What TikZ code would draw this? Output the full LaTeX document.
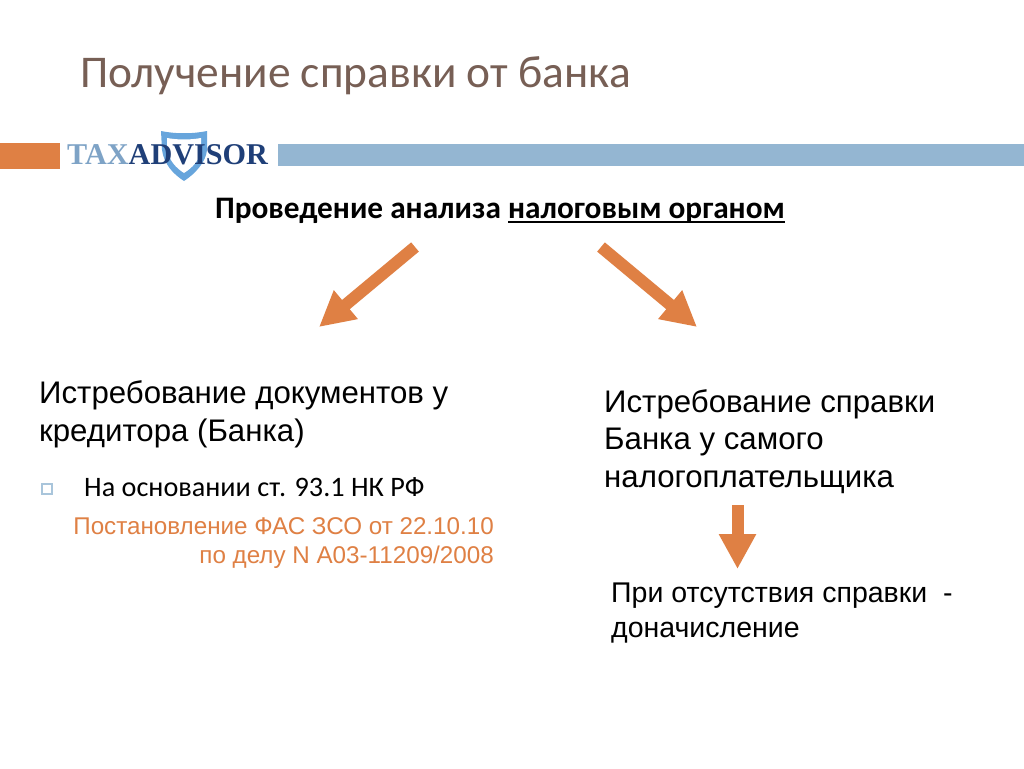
\documentclass[tikz,border=0pt]{standalone}
\usepackage{fontspec}
\setmainfont{Liberation Sans}
\newfontfamily\calibrifont{Carlito}
\newfontfamily\logofont{Liberation Serif}
\usetikzlibrary{arrows.meta}
\definecolor{accent}{HTML}{DF8044}
\definecolor{barblue}{HTML}{94B6D2}
\definecolor{titlecol}{HTML}{775F55}
\definecolor{shieldblue}{HTML}{67A5DC}
\definecolor{navy}{HTML}{1F3F78}
\definecolor{taxblue}{HTML}{7EA3C6}
\tikzset{
  bar/.style={fill=#1,draw=none},
  blockarrow/.style={draw=accent,line width=12pt,-{Triangle[length=35pt,width=35pt,fill=accent]}},
  body/.style={anchor=base west,inner sep=0pt,font=\fontsize{31.2}{36}\selectfont,text=black},
  cite/.style={anchor=base east,inner sep=0pt,font=\fontsize{24.2}{28}\selectfont,text=accent},
}
\begin{document}
\begin{tikzpicture}[x=1pt,y=-1pt]
\useasboundingbox (0,0) rectangle (1024,768);
\fill[white] (0,0) rectangle (1024,768);
\node[anchor=base west,inner sep=0pt,text=titlecol,font=\calibrifont\fontsize{45.4}{50}\selectfont] (title) at (80,87) {Получение справки от банка};
\fill[bar=accent] (0,143) rectangle (60,169);
\fill[bar=barblue] (278,144) rectangle (1024,166);
\fill[shieldblue] (161,131) .. controls (175,134) and (193,134) .. (207,131) -- (207,150) .. controls (206,162) and (195,174) .. (184,181) .. controls (173,174) and (164,164) .. (162,150) -- cycle;
\fill[white] (167,138) .. controls (178,140) and (190,140) .. (201,138) -- (201,150) .. controls (200,160) and (192,168) .. (184,173) .. controls (176,168) and (169,160) .. (167,150) -- cycle;
\node[anchor=base west,inner sep=0pt,font=\logofont\bfseries\fontsize{30.2}{32}\selectfont] (logo) at (67,164) {\textcolor{taxblue}{TAX}\textcolor{navy}{ADVISOR}};
\node[anchor=base,inner sep=0pt,font=\calibrifont\bfseries\fontsize{31.3}{36}\selectfont] (head) at (500,218) {Проведение анализа \rlap{\rule[-4.5pt]{277pt}{2pt}}налоговым органом};
\coordinate (la) at (415,247);
\coordinate (lb) at (319,327);
\coordinate (ra) at (601,247);
\coordinate (rb) at (697,327);
\coordinate (da) at (737.5,505);
\coordinate (db) at (737.5,569);
\draw[blockarrow] (la) -- (lb);
\draw[blockarrow] (ra) -- (rb);
\draw[blockarrow] (da) -- (db);
\node[body] (l1) at (39,403) {Истребование документов у};
\node[body] (l2) at (39,441) {кредитора (Банка)};
\node[draw=barblue!80,line width=2pt,fill=white,minimum size=10pt,inner sep=0pt] (bul) at (47,489) {};
\node[anchor=base west,inner sep=0pt,font=\calibrifont\fontsize{28.2}{32}\selectfont] (basis) at (84,496) {На основании ст. 93.1 НК РФ};
\node[cite] (c1) at (494,534) {Постановление ФАС ЗСО от 22.10.10};
\node[cite] (c2) at (494,563) {по делу N А03-11209/2008};
\node[body] (r1) at (604,412) {Истребование справки};
\node[body] (r2) at (604,449) {Банка у самого};
\node[body] (r3) at (604,487) {налогоплательщика};
\node[anchor=base west,inner sep=0pt,font=\fontsize{28.5}{32}\selectfont] (q1) at (611,602) {При отсутствия справки\ \ -};
\node[anchor=base west,inner sep=0pt,font=\fontsize{28.5}{32}\selectfont] (q2) at (611,637) {доначисление};
\end{tikzpicture}
\end{document}
